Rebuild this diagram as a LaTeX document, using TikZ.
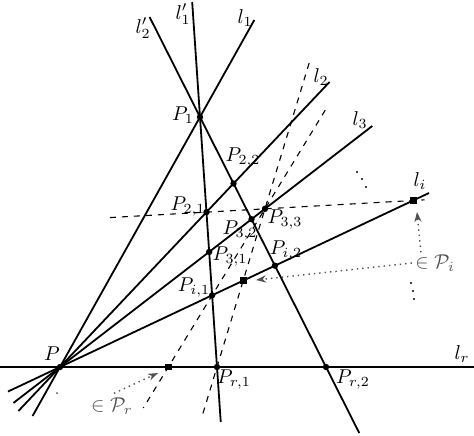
\documentclass[tikz,border=0pt]{standalone}
\usepackage{tikz}
\usepackage{xcolor}
\usetikzlibrary{calc,arrows.meta}
\definecolor{hintgray}{HTML}{505050}

\tikzset{
  dot/.style={circle, fill=black, inner sep=0pt, minimum size=3.2pt},
  sqdot/.style={rectangle, fill=black, inner sep=0pt, minimum size=3.4pt},
  mainline/.style={line width=0.9pt},
  auxline/.style={dashed, line width=0.55pt},
  hintarrow/.style={dotted, line width=0.7pt, draw=hintgray, -{Stealth[length=5pt,width=3.6pt]}},
  lbl/.style={inner sep=0pt}
}

\begin{document}
\begin{tikzpicture}[x=0.5pt, y=-0.5pt, font=\normalsize]
\useasboundingbox (0,0) rectangle (474,435);

% points that fix the pencil and the two transversals
\coordinate (P) at (60,367);
\coordinate (P1) at (200,117);
\coordinate (Pr1) at (217,367);
\coordinate (Pr2) at (326,367);
\coordinate (A2) at (234,183);
\coordinate (A3) at (266,208);
\coordinate (Ai) at (429,193);
\coordinate (lrL) at (0,367);
\coordinate (lrR) at (474,367);

% crossings
\coordinate (P21) at (intersection of P1--Pr1 and P--A2);
\coordinate (P22) at (intersection of P1--Pr2 and P--A2);
\coordinate (P31) at (intersection of P1--Pr1 and P--A3);
\coordinate (P32) at (intersection of P1--Pr2 and P--A3);
\coordinate (Pi1) at (intersection of P1--Pr1 and P--Ai);
\coordinate (Pi2) at (intersection of P1--Pr2 and P--Ai);
\coordinate (Qi) at ($(P)!0.957!(Ai)$);
\coordinate (P33) at (intersection of P21--Qi and P--A3);
\coordinate (Qr) at (intersection of P33--Pi1 and lrL--lrR);
\coordinate (Qs) at (intersection of P33--Pr1 and P--Ai);

% the lines
\draw[mainline] (lrL) -- (lrR);
\draw[mainline] ($(P)!-0.196!(P1)$) -- ($(P)!1.388!(P1)$);
\draw[mainline] ($(P)!-0.239!(A2)$) -- ($(P)!1.549!(A2)$);
\draw[mainline] ($(P)!-0.226!(A3)$) -- ($(P)!1.516!(A3)$);
\draw[mainline] ($(P)!-0.141!(Ai)$) -- (Ai);
\draw[mainline] ($(P1)!-0.46!(Pr1)$) -- ($(P1)!1.22!(Pr1)$);
\draw[mainline] ($(P1)!-0.4!(Pr2)$) -- ($(P1)!1.264!(Pr2)$);

\draw[auxline] ($(Qi)!1.467!(P21)$) -- ($(Qi)!-0.055!(P21)$);
\draw[auxline] ($(P33)!-1.142!(Pi1)$) -- ($(P33)!2.303!(Pi1)$);
\draw[auxline] ($(P33)!-0.9216!(Pr1)$) -- ($(P33)!1.322!(Pr1)$);

% marked points
\node[dot] (nP) at (P) {};
\node[dot] (nP1) at (P1) {};
\node[dot] (nP21) at (P21) {};
\node[dot] (nP22) at (P22) {};
\node[dot] (nP31) at (P31) {};
\node[dot] (nP32) at (P32) {};
\node[dot] (nP33) at (P33) {};
\node[dot] (nPi1) at (Pi1) {};
\node[dot] (nPi2) at (Pi2) {};
\node[dot] (nPr1) at (Pr1) {};
\node[dot] (nPr2) at (Pr2) {};
\node[sqdot] (nQi) at (Qi) {};
\node[sqdot] (nQr) at (Qr) {};
\node[sqdot] (nQs) at (Qs) {};

% line names
\node[lbl] (tl2p) at (143,28) {$l'_2$};
\node[lbl] (tl1p) at (183,14) {$l'_1$};
\node[lbl] (tl1) at (245,18) {$l_1$};
\node[lbl] (tl2) at (321,77) {$l_2$};
\node[lbl] (tl3) at (360,120) {$l_3$};
\node[lbl] (tli) at (420,181) {$l_i$};
\node[lbl] (tlr) at (462,354) {$l_r$};

% point names
\node[lbl] (tP) at (52,354) {$P$};
\node[lbl] (tP1) at (183,115) {$P_1$};
\node[lbl] (tP22) at (243,158) {$P_{2,2}$};
\node[lbl] (tP21) at (188,207) {$P_{2,1}$};
\node[lbl] (tP33) at (285,220) {$P_{3,3}$};
\node[lbl] (tP32) at (240,231) {$P_{3,2}$};
\node[lbl] (tP31) at (230,257) {$P_{3,1}$};
\node[lbl] (tPi1) at (194,288) {$P_{i,1}$};
\node[lbl] (tPi2) at (286,251) {$P_{i,2}$};
\node[lbl] (tPr1) at (234,380) {$P_{r,1}$};
\node[lbl] (tPr2) at (353,380) {$P_{r,2}$};

% hints
\node[lbl, text=hintgray] (tinPi) at (435,263) {$\in\mathcal{P}_i$};
\node[lbl, text=hintgray] (tinPr) at (112,406) {$\in\mathcal{P}_r$};
\coordinate (tipQi) at (417,212);
\coordinate (tipQs) at (256,280);
\coordinate (tipQr) at (158,373);
\draw[hintarrow] ($(tinPi.north west)+(6,-2)$) -- (tipQi);
\draw[hintarrow] ($(tinPi.west)+(-3,0)$) -- (tipQs);
\draw[hintarrow] ($(tinPr.north)+(2,-4)$) -- (tipQr);

% dots for the omitted lines
\foreach \x/\y in {357/172, 362/179, 366/187, 411/283, 413/291, 414/299}
  \fill (\x,\y) circle (0.6pt);
\fill[hintgray] (57,393) circle (0.5pt);
\end{tikzpicture}
\end{document}
